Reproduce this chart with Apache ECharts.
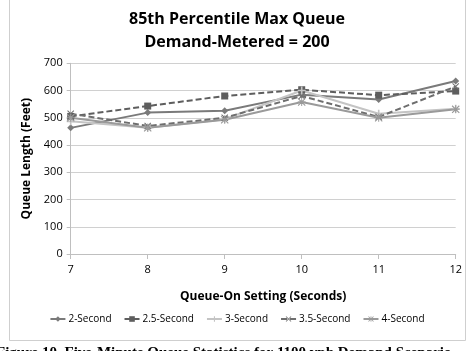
<!DOCTYPE html>
<html><head><meta charset="utf-8">
<script src="https://cdn.jsdelivr.net/npm/echarts@6/dist/echarts.min.js"></script>
<style>html,body{margin:0;padding:0;background:#fff;}#c{width:474px;height:351px;}</style>
</head><body><div id="c"></div>
<script>
const categories = ['7','8','9','10','11','12'];
const s2 = [463, 519, 526, 585, 567, 635];
const s25 = [505, 543, 580, 603, 583, 598];
const s3 = [487, 463, 495, 600, 515, 533];
const s35 = [515, 470, 500, 580, 503, 615];
const s4 = [500, 463, 493, 558, 500, 531];
const seriesNames = ['2-Second','2.5-Second','3-Second','3.5-Second','4-Second'];

const plus = 'path://M4,0H6V4H10V6H6V10H4V6H0V4H4Z';
const cross = 'path://M1,0L5,4L9,0L10,1L6,5L10,9L9,10L5,6L1,10L0,9L4,5L0,1Z';
const star = 'path://M4.4,0H5.6V4.4H10V5.6H5.6V10H4.4V5.6H0V4.4H4.4Z M1,0L5,4L9,0L10,1L6,5L10,9L9,10L5,6L1,10L0,9L4,5L0,1Z';

function mk(name, data, color, type, symbol, size) {
  return {
    name, type: 'line', data, symbol, symbolSize: size,
    lineStyle: { color, width: 2, type },
    itemStyle: { color },
    emphasis: { disabled: true }
  };
}
const chart = echarts.init(document.getElementById('c'));
chart.setOption({
  animation: false,
  textStyle: { fontFamily: 'Open Sans' },
  title: {
    text: '85th Percentile Max Queue\nDemand-Metered = 200',
    left: 'center', top: 3,
    textStyle: { fontSize: 16, fontWeight: 'bold', color: '#000', lineHeight: 23, fontFamily: 'Open Sans' }
  },
  grid: { left: 70.7, right: 18.3, top: 63.3, bottom: 97 },
  legend: {
    bottom: 22, left: 'center', itemGap: 12, itemWidth: 15, itemHeight: 7,
    textStyle: { fontSize: 10, color: '#000', fontFamily: 'Open Sans', padding: [0, 0, 0, -2] },
    data: seriesNames
  },
  xAxis: {
    type: 'category', data: categories, boundaryGap: false,
    name: 'Queue-On Setting (Seconds)', nameLocation: 'middle', nameGap: 37,
    nameTextStyle: { fontSize: 12, fontWeight: 'bold', color: '#000', fontFamily: 'Open Sans' },
    axisLine: { lineStyle: { color: '#bfbfbf' } },
    axisTick: { show: true, lineStyle: { color: '#bfbfbf' } },
    axisLabel: { fontSize: 11, color: '#000', margin: 10 }
  },
  yAxis: {
    type: 'value', min: 0, max: 700, interval: 100,
    name: 'Queue Length (Feet)', nameLocation: 'middle', nameGap: 36,
    nameTextStyle: { fontSize: 12, fontWeight: 'bold', color: '#000', fontFamily: 'Open Sans' },
    axisLine: { show: true, lineStyle: { color: '#bfbfbf' } },
    axisTick: { show: true, length: 4, lineStyle: { color: '#bfbfbf' } },
    axisLabel: { fontSize: 11, color: '#000', margin: 8 },
    splitLine: { lineStyle: { color: '#d0d0d0', width: 1 } }
  },
  series: [
    mk('2-Second', s2, '#7a7a7a', 'solid', 'diamond', 7),
    mk('2.5-Second', s25, '#5e5e5e', [6, 3], 'rect', 7),
    mk('3-Second', s3, '#c4c4c4', 'solid', plus, 8),
    mk('3.5-Second', s35, '#6e6e6e', [6, 3], cross, 7),
    mk('4-Second', s4, '#9a9a9a', 'solid', star, 8)
  ],
  graphic: [
    { type: 'rect', shape: { x: 9.5, y: -2, width: 456, height: 342.5 }, style: { fill: 'none', stroke: '#cfcfcf', lineWidth: 1 }, silent: true },
    { type: 'text', left: -4, top: 346, style: { text: 'Figure 10. Five-Minute Queue Statistics for 1100 vph Demand Scenario', font: 'bold 15px "Liberation Serif"', fill: '#000' } }
  ]
});
</script></body></html>
